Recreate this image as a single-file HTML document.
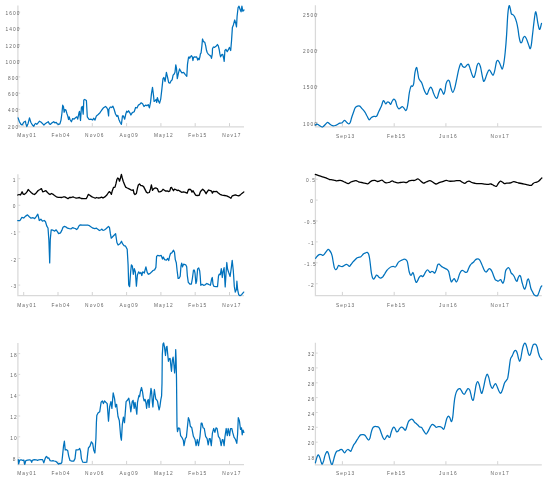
<!DOCTYPE html>
<html><head><meta charset="utf-8"><style>
html,body{margin:0;padding:0;background:#fff;}
body{width:550px;height:481px;overflow:hidden;}
svg{display:block;}
svg text{font-family:"Liberation Sans",Arial,sans-serif;font-size:4.8px;letter-spacing:1.1px;fill:#666666;}
</style></head><body>
<svg width="550" height="481" viewBox="0 0 550 481">
<rect width="550" height="481" fill="#fff"/>
<path d="M17.9,5.4V126.8H244.0" fill="none" stroke="#d9d9d9" stroke-width="1.25"/>
<path d="M23.7,126.3v-3.2" stroke="#c8c8c8" stroke-width="0.8"/>
<text x="27.1" y="137.4" text-anchor="middle">May01</text>
<path d="M58.0,126.3v-3.2" stroke="#c8c8c8" stroke-width="0.8"/>
<text x="61.0" y="137.4" text-anchor="middle">Feb04</text>
<path d="M92.3,126.3v-3.2" stroke="#c8c8c8" stroke-width="0.8"/>
<text x="94.8" y="137.4" text-anchor="middle">Nov06</text>
<path d="M126.6,126.3v-3.2" stroke="#c8c8c8" stroke-width="0.8"/>
<text x="129.1" y="137.4" text-anchor="middle">Aug09</text>
<path d="M160.9,126.3v-3.2" stroke="#c8c8c8" stroke-width="0.8"/>
<text x="163.9" y="137.4" text-anchor="middle">May12</text>
<path d="M195.2,126.3v-3.2" stroke="#c8c8c8" stroke-width="0.8"/>
<text x="197.7" y="137.4" text-anchor="middle">Feb15</text>
<path d="M229.5,126.3v-3.2" stroke="#c8c8c8" stroke-width="0.8"/>
<text x="231.9" y="137.4" text-anchor="middle">Nov17</text>
<path d="M18.4,12.0h1.8" stroke="#c8c8c8" stroke-width="0.7"/>
<text x="13.0" y="15.1" text-anchor="middle">1600</text>
<path d="M18.4,28.2h1.8" stroke="#c8c8c8" stroke-width="0.7"/>
<text x="13.0" y="31.3" text-anchor="middle">1400</text>
<path d="M18.4,44.5h1.8" stroke="#c8c8c8" stroke-width="0.7"/>
<text x="13.0" y="47.5" text-anchor="middle">1200</text>
<path d="M18.4,60.7h1.8" stroke="#c8c8c8" stroke-width="0.7"/>
<text x="13.0" y="63.7" text-anchor="middle">1000</text>
<path d="M18.4,76.9h1.8" stroke="#c8c8c8" stroke-width="0.7"/>
<text x="13.6" y="80.0" text-anchor="middle">800</text>
<path d="M18.4,93.2h1.8" stroke="#c8c8c8" stroke-width="0.7"/>
<text x="13.6" y="96.2" text-anchor="middle">600</text>
<path d="M18.4,109.4h1.8" stroke="#c8c8c8" stroke-width="0.7"/>
<text x="13.6" y="112.4" text-anchor="middle">400</text>
<path d="M18.4,125.6h1.8" stroke="#c8c8c8" stroke-width="0.7"/>
<text x="13.6" y="128.7" text-anchor="middle">200</text>
<path d="M315.4,5.3V126.9H541.8" fill="none" stroke="#d9d9d9" stroke-width="1.25"/>
<path d="M342.4,126.4v-3.2" stroke="#c8c8c8" stroke-width="0.8"/>
<text x="345.6" y="137.5" text-anchor="middle">Sep13</text>
<path d="M394.2,126.4v-3.2" stroke="#c8c8c8" stroke-width="0.8"/>
<text x="396.6" y="137.5" text-anchor="middle">Feb15</text>
<path d="M445.9,126.4v-3.2" stroke="#c8c8c8" stroke-width="0.8"/>
<text x="448.4" y="137.5" text-anchor="middle">Jun16</text>
<path d="M497.7,126.4v-3.2" stroke="#c8c8c8" stroke-width="0.8"/>
<text x="500.2" y="137.5" text-anchor="middle">Nov17</text>
<path d="M315.9,14.1h1.8" stroke="#c8c8c8" stroke-width="0.7"/>
<text x="310.5" y="17.1" text-anchor="middle">2500</text>
<path d="M315.9,50.2h1.8" stroke="#c8c8c8" stroke-width="0.7"/>
<text x="310.5" y="53.2" text-anchor="middle">2000</text>
<path d="M315.9,86.3h1.8" stroke="#c8c8c8" stroke-width="0.7"/>
<text x="310.5" y="89.4" text-anchor="middle">1500</text>
<path d="M315.9,122.4h1.8" stroke="#c8c8c8" stroke-width="0.7"/>
<text x="310.5" y="125.5" text-anchor="middle">1000</text>
<path d="M17.9,174.3V295.7H244.0" fill="none" stroke="#d9d9d9" stroke-width="1.25"/>
<path d="M23.7,295.2v-3.2" stroke="#c8c8c8" stroke-width="0.8"/>
<text x="27.1" y="306.7" text-anchor="middle">May01</text>
<path d="M58.0,295.2v-3.2" stroke="#c8c8c8" stroke-width="0.8"/>
<text x="61.0" y="306.7" text-anchor="middle">Feb04</text>
<path d="M92.3,295.2v-3.2" stroke="#c8c8c8" stroke-width="0.8"/>
<text x="94.8" y="306.7" text-anchor="middle">Nov06</text>
<path d="M126.6,295.2v-3.2" stroke="#c8c8c8" stroke-width="0.8"/>
<text x="129.1" y="306.7" text-anchor="middle">Aug09</text>
<path d="M160.9,295.2v-3.2" stroke="#c8c8c8" stroke-width="0.8"/>
<text x="163.9" y="306.7" text-anchor="middle">May12</text>
<path d="M195.2,295.2v-3.2" stroke="#c8c8c8" stroke-width="0.8"/>
<text x="197.7" y="306.7" text-anchor="middle">Feb15</text>
<path d="M229.5,295.2v-3.2" stroke="#c8c8c8" stroke-width="0.8"/>
<text x="231.9" y="306.7" text-anchor="middle">Nov17</text>
<path d="M18.4,178.7h1.8" stroke="#c8c8c8" stroke-width="0.7"/>
<text x="14.7" y="181.8" text-anchor="middle">1</text>
<path d="M18.4,205.3h1.8" stroke="#c8c8c8" stroke-width="0.7"/>
<text x="14.7" y="208.3" text-anchor="middle">0</text>
<path d="M18.4,231.9h1.8" stroke="#c8c8c8" stroke-width="0.7"/>
<text x="14.1" y="234.9" text-anchor="middle">-1</text>
<path d="M18.4,258.5h1.8" stroke="#c8c8c8" stroke-width="0.7"/>
<text x="14.1" y="261.6" text-anchor="middle">-2</text>
<path d="M18.4,285.1h1.8" stroke="#c8c8c8" stroke-width="0.7"/>
<text x="14.1" y="288.1" text-anchor="middle">-3</text>
<path d="M315.4,174.5V295.6H541.8" fill="none" stroke="#d9d9d9" stroke-width="1.25"/>
<path d="M342.4,295.1v-3.2" stroke="#c8c8c8" stroke-width="0.8"/>
<text x="345.6" y="306.6" text-anchor="middle">Sep13</text>
<path d="M394.2,295.1v-3.2" stroke="#c8c8c8" stroke-width="0.8"/>
<text x="396.6" y="306.6" text-anchor="middle">Feb15</text>
<path d="M445.9,295.1v-3.2" stroke="#c8c8c8" stroke-width="0.8"/>
<text x="448.4" y="306.6" text-anchor="middle">Jun16</text>
<path d="M497.7,295.1v-3.2" stroke="#c8c8c8" stroke-width="0.8"/>
<text x="500.2" y="306.6" text-anchor="middle">Nov17</text>
<path d="M315.9,179.2h1.8" stroke="#c8c8c8" stroke-width="0.7"/>
<text x="311.1" y="182.2" text-anchor="middle">0.5</text>
<path d="M315.9,200.1h1.8" stroke="#c8c8c8" stroke-width="0.7"/>
<text x="312.2" y="203.2" text-anchor="middle">0</text>
<path d="M315.9,221.0h1.8" stroke="#c8c8c8" stroke-width="0.7"/>
<text x="310.5" y="224.1" text-anchor="middle">-0.5</text>
<path d="M315.9,241.9h1.8" stroke="#c8c8c8" stroke-width="0.7"/>
<text x="311.6" y="244.9" text-anchor="middle">-1</text>
<path d="M315.9,262.8h1.8" stroke="#c8c8c8" stroke-width="0.7"/>
<text x="310.5" y="265.9" text-anchor="middle">-1.5</text>
<path d="M315.9,283.7h1.8" stroke="#c8c8c8" stroke-width="0.7"/>
<text x="311.6" y="286.8" text-anchor="middle">-2</text>
<path d="M17.9,343.0V464.6H244.0" fill="none" stroke="#d9d9d9" stroke-width="1.25"/>
<path d="M23.7,464.1v-3.2" stroke="#c8c8c8" stroke-width="0.8"/>
<text x="27.1" y="474.7" text-anchor="middle">May01</text>
<path d="M58.0,464.1v-3.2" stroke="#c8c8c8" stroke-width="0.8"/>
<text x="61.0" y="474.7" text-anchor="middle">Feb04</text>
<path d="M92.3,464.1v-3.2" stroke="#c8c8c8" stroke-width="0.8"/>
<text x="94.8" y="474.7" text-anchor="middle">Nov06</text>
<path d="M126.6,464.1v-3.2" stroke="#c8c8c8" stroke-width="0.8"/>
<text x="129.1" y="474.7" text-anchor="middle">Aug09</text>
<path d="M160.9,464.1v-3.2" stroke="#c8c8c8" stroke-width="0.8"/>
<text x="163.9" y="474.7" text-anchor="middle">May12</text>
<path d="M195.2,464.1v-3.2" stroke="#c8c8c8" stroke-width="0.8"/>
<text x="197.7" y="474.7" text-anchor="middle">Feb15</text>
<path d="M229.5,464.1v-3.2" stroke="#c8c8c8" stroke-width="0.8"/>
<text x="231.9" y="474.7" text-anchor="middle">Nov17</text>
<path d="M18.4,353.6h1.8" stroke="#c8c8c8" stroke-width="0.7"/>
<text x="14.1" y="356.6" text-anchor="middle">18</text>
<path d="M18.4,374.4h1.8" stroke="#c8c8c8" stroke-width="0.7"/>
<text x="14.1" y="377.4" text-anchor="middle">16</text>
<path d="M18.4,395.2h1.8" stroke="#c8c8c8" stroke-width="0.7"/>
<text x="14.1" y="398.2" text-anchor="middle">14</text>
<path d="M18.4,416.0h1.8" stroke="#c8c8c8" stroke-width="0.7"/>
<text x="14.1" y="419.0" text-anchor="middle">12</text>
<path d="M18.4,436.8h1.8" stroke="#c8c8c8" stroke-width="0.7"/>
<text x="14.1" y="439.8" text-anchor="middle">10</text>
<path d="M18.4,457.6h1.8" stroke="#c8c8c8" stroke-width="0.7"/>
<text x="14.7" y="460.6" text-anchor="middle">8</text>
<path d="M315.4,342.8V464.9H541.8" fill="none" stroke="#d9d9d9" stroke-width="1.25"/>
<path d="M342.4,464.4v-3.2" stroke="#c8c8c8" stroke-width="0.8"/>
<text x="345.6" y="475.0" text-anchor="middle">Sep13</text>
<path d="M394.2,464.4v-3.2" stroke="#c8c8c8" stroke-width="0.8"/>
<text x="396.6" y="475.0" text-anchor="middle">Feb15</text>
<path d="M445.9,464.4v-3.2" stroke="#c8c8c8" stroke-width="0.8"/>
<text x="448.4" y="475.0" text-anchor="middle">Jun16</text>
<path d="M497.7,464.4v-3.2" stroke="#c8c8c8" stroke-width="0.8"/>
<text x="500.2" y="475.0" text-anchor="middle">Nov17</text>
<path d="M315.9,353.1h1.8" stroke="#c8c8c8" stroke-width="0.7"/>
<text x="311.6" y="356.1" text-anchor="middle">32</text>
<path d="M315.9,367.9h1.8" stroke="#c8c8c8" stroke-width="0.7"/>
<text x="311.6" y="371.0" text-anchor="middle">30</text>
<path d="M315.9,382.8h1.8" stroke="#c8c8c8" stroke-width="0.7"/>
<text x="311.6" y="385.8" text-anchor="middle">28</text>
<path d="M315.9,397.6h1.8" stroke="#c8c8c8" stroke-width="0.7"/>
<text x="311.6" y="400.7" text-anchor="middle">26</text>
<path d="M315.9,412.5h1.8" stroke="#c8c8c8" stroke-width="0.7"/>
<text x="311.6" y="415.5" text-anchor="middle">24</text>
<path d="M315.9,427.3h1.8" stroke="#c8c8c8" stroke-width="0.7"/>
<text x="311.6" y="430.4" text-anchor="middle">22</text>
<path d="M315.9,442.2h1.8" stroke="#c8c8c8" stroke-width="0.7"/>
<text x="311.6" y="445.2" text-anchor="middle">20</text>
<path d="M315.9,457.0h1.8" stroke="#c8c8c8" stroke-width="0.7"/>
<text x="311.6" y="460.1" text-anchor="middle">18</text>
<polyline points="18.1,117.9 19.4,121.7 21.0,124.4 22.1,125.0 23.7,122.3 25.4,121.2 25.9,123.9 26.8,126.6 28.1,123.4 29.5,117.9 30.8,122.3 32.4,125.0 33.8,126.3 34.6,124.4 35.7,123.4 36.8,124.4 38.1,122.8 39.5,121.2 41.2,122.3 42.8,123.9 43.9,125.0 45.0,123.9 46.6,122.8 48.3,121.7 49.4,123.9 50.4,124.4 52.1,122.8 53.7,121.7 54.8,122.8 56.2,122.3 57.3,123.9 58.6,124.4 59.9,123.9 61.0,120.1 61.9,113.5 62.7,105.2 63.5,106.8 64.1,112.3 65.0,109.5 65.9,110.0 66.8,113.2 67.7,115.9 68.6,119.5 69.1,116.8 70.0,119.5 71.4,121.8 72.7,118.6 74.1,119.1 75.5,117.7 76.8,116.8 77.7,119.1 79.1,112.3 79.5,111.4 80.5,120.5 81.4,107.7 82.3,106.4 83.2,114.1 83.8,100.0 84.7,99.5 86.4,100.5 87.3,116.8 89.1,119.5 90.9,119.1 92.7,120.0 93.6,118.2 95.0,120.0 96.4,115.9 98.2,114.5 100.0,112.7 101.8,110.0 103.6,107.7 105.5,106.4 106.8,107.7 107.7,109.5 108.6,115.9 108.9,109.3 110.3,107.0 111.7,107.5 112.9,106.1 114.1,109.3 115.5,114.0 116.9,116.4 117.8,115.4 118.8,119.2 120.2,122.5 121.4,124.3 122.5,115.9 123.4,115.9 124.7,119.2 125.8,114.0 126.7,111.2 127.7,112.2 128.6,110.7 130.0,113.1 130.9,115.0 132.3,112.6 134.2,111.7 135.6,107.5 137.0,108.0 138.4,105.1 139.8,104.2 141.2,102.8 142.6,103.7 144.0,106.5 145.5,105.1 146.9,105.6 148.3,104.7 149.4,107.9 150.6,101.9 151.5,93.4 152.5,87.3 153.6,96.2 154.1,101.4 155.3,100.4 156.2,99.5 156.7,102.3 157.4,97.6 158.4,100.9 159.6,103.2 160.7,99.2 161.9,88.9 163.0,78.6 163.9,77.5 165.1,81.5 166.4,72.3 167.6,77.5 168.7,82.6 169.9,83.2 171.0,80.9 172.2,79.7 173.1,75.2 174.2,74.0 175.0,72.3 175.8,64.9 176.5,68.3 177.3,78.6 178.5,72.9 179.6,68.9 180.7,71.2 181.9,72.9 183.6,72.3 185.3,74.6 186.8,76.3 187.5,64.1 188.5,57.5 189.0,56.8 189.7,58.3 190.5,56.8 191.4,55.7 192.3,56.8 192.9,60.5 193.6,57.2 194.5,56.8 195.5,57.2 196.5,56.8 197.2,58.3 197.7,60.1 198.5,58.3 199.2,59.7 199.9,56.8 200.4,53.9 201.1,52.8 201.9,45.9 202.5,39.0 203.2,40.8 203.9,41.9 204.8,42.3 205.7,45.9 206.5,50.3 207.2,52.5 208.3,54.1 209.7,55.4 210.8,56.1 211.5,58.3 212.3,53.9 212.5,48.8 213.4,47.0 214.5,47.4 215.5,46.6 216.4,45.9 217.4,44.5 218.3,45.9 219.2,49.5 219.9,53.9 220.6,56.8 221.4,55.4 222.1,54.3 222.8,54.6 223.6,58.0 224.2,61.3 224.9,50.5 225.9,49.3 227.2,51.7 228.2,49.9 229.4,47.4 230.7,50.5 231.5,41.1 232.4,27.4 233.4,24.9 234.7,20.0 235.7,23.1 236.5,26.8 237.1,16.2 238.1,7.5 239.0,6.2 240.3,10.0 241.1,11.8 241.9,6.2 242.8,11.2 244.0,10.0" fill="none" stroke="#0072bd" stroke-width="1.25" stroke-linejoin="round" stroke-linecap="round"/>
<path d="M315.3,125.0C315.6,124.8 316.4,124.0 317.1,124.1C317.8,124.2 318.5,125.0 319.4,125.5C320.3,126.0 321.5,127.2 322.5,127.0C323.5,126.8 324.5,125.3 325.3,124.5C326.1,123.7 326.8,122.4 327.5,122.3C328.2,122.2 329.0,123.5 329.8,124.1C330.6,124.7 331.6,125.5 332.5,125.7C333.4,125.9 334.5,125.7 335.3,125.5C336.1,125.3 336.8,124.9 337.5,124.5C338.2,124.1 339.0,123.5 339.8,123.2C340.6,122.9 341.3,123.2 342.1,122.7C342.9,122.2 343.6,120.4 344.4,120.3C345.1,120.2 345.9,121.7 346.6,122.3C347.4,122.9 348.3,123.9 348.9,123.9C349.5,123.9 349.9,123.3 350.3,122.3C350.8,121.3 351.1,119.4 351.6,117.7C352.1,116.0 352.9,114.0 353.5,112.3C354.1,110.6 354.6,108.7 355.3,107.7C356.0,106.7 356.8,106.4 357.5,106.1C358.2,105.8 359.0,105.6 359.8,106.1C360.6,106.6 361.4,107.9 362.3,108.9C363.2,109.9 364.3,111.2 365.1,112.3C365.9,113.4 366.2,114.5 366.9,115.8C367.6,117.0 368.4,119.5 369.2,119.8C369.9,120.1 370.6,118.1 371.4,117.5C372.1,116.9 372.8,116.5 373.7,116.3C374.6,116.1 375.7,117.1 376.6,116.3C377.5,115.5 378.1,112.8 378.9,111.2C379.7,109.6 380.5,108.2 381.2,106.6C381.9,105.0 382.4,102.5 382.9,101.5C383.4,100.5 383.5,100.5 384.0,100.9C384.5,101.3 385.1,103.6 385.7,103.8C386.3,104.0 386.9,102.2 387.5,102.0C388.1,101.8 388.7,102.2 389.2,102.6C389.7,103.0 390.2,104.5 390.7,104.3C391.2,104.1 391.5,102.3 392.0,101.5C392.5,100.7 393.2,99.3 393.8,99.2C394.4,99.1 394.9,99.7 395.5,100.9C396.1,102.1 396.6,105.3 397.2,106.6C397.8,107.9 398.3,108.7 398.9,108.9C399.5,109.1 400.0,108.2 400.6,107.8C401.2,107.4 401.7,106.5 402.3,106.6C402.9,106.7 403.5,107.6 404.1,108.3C404.7,109.0 405.3,110.5 405.8,110.6C406.3,110.7 406.5,110.3 406.9,108.9C407.3,107.5 407.7,105.2 408.1,102.4C408.5,99.7 408.9,95.1 409.4,92.4C409.9,89.7 410.5,87.2 411.0,86.2C411.5,85.2 412.1,86.6 412.5,86.2C412.9,85.8 413.3,86.0 413.7,83.7C414.1,81.4 414.5,75.1 415.0,72.4C415.5,69.7 416.1,67.7 416.5,67.5C416.9,67.3 417.1,69.4 417.5,71.2C417.9,73.0 418.3,76.5 418.7,78.1C419.1,79.6 419.5,79.7 420.0,80.5C420.5,81.3 421.2,81.6 421.8,83.0C422.4,84.4 423.1,87.0 423.7,88.7C424.3,90.4 425.0,92.1 425.6,93.0C426.2,93.9 426.6,94.8 427.2,94.3C427.8,93.8 428.3,91.1 428.9,89.9C429.5,88.7 430.1,87.3 430.6,87.2C431.2,87.1 431.7,88.2 432.2,89.3C432.7,90.4 433.1,92.2 433.7,93.6C434.2,94.9 434.9,96.7 435.5,97.4C436.1,98.1 436.7,98.7 437.2,98.0C437.7,97.3 438.2,94.5 438.7,93.0C439.2,91.5 439.8,89.1 440.3,88.7C440.8,88.3 441.2,89.6 441.8,90.5C442.4,91.4 443.2,94.2 443.7,94.3C444.2,94.4 444.5,92.9 444.9,91.1C445.3,89.3 445.6,85.5 446.1,83.7C446.6,81.9 447.4,80.5 448.0,80.2C448.6,79.9 449.1,80.6 449.6,81.8C450.1,83.0 450.4,85.6 450.9,87.4C451.4,89.2 452.1,92.3 452.7,92.4C453.3,92.5 454.0,90.4 454.7,88.1C455.4,85.8 456.1,81.8 456.8,78.6C457.5,75.4 458.1,71.7 458.8,69.2C459.5,66.7 460.1,64.0 460.8,63.5C461.5,63.0 462.1,65.9 462.8,66.5C463.5,67.1 464.2,67.4 464.9,67.2C465.6,67.0 466.3,65.5 466.9,65.1C467.5,64.6 468.0,63.8 468.6,64.5C469.2,65.2 469.7,67.4 470.3,69.2C470.9,71.0 471.7,74.0 472.3,75.3C472.9,76.6 473.5,77.9 474.1,77.3C474.7,76.7 475.2,73.8 475.7,71.9C476.2,70.0 476.5,67.3 477.0,65.8C477.5,64.3 478.0,63.0 478.6,63.1C479.2,63.2 479.8,64.6 480.4,66.5C481.0,68.4 481.5,72.2 482.0,74.6C482.5,77.0 483.0,80.3 483.5,81.1C484.0,81.9 484.5,80.6 485.1,79.3C485.7,78.0 486.5,74.8 487.2,73.2C487.9,71.6 488.6,70.1 489.2,69.9C489.8,69.7 490.2,71.0 490.8,71.9C491.4,72.8 492.4,75.4 493.0,75.3C493.6,75.2 494.0,73.5 494.6,71.2C495.2,69.0 495.9,63.6 496.5,61.8C497.1,60.0 497.4,60.2 497.9,60.3C498.4,60.4 498.9,61.5 499.4,62.5C499.9,63.5 500.3,65.0 500.8,66.1C501.3,67.2 501.8,69.3 502.3,69.0C502.8,68.7 503.2,66.8 503.7,64.0C504.2,61.2 504.7,57.1 505.2,52.3C505.7,47.4 506.2,41.2 506.6,34.9C507.0,28.6 507.4,19.4 507.8,14.5C508.2,9.7 508.7,6.8 509.1,5.8C509.5,4.8 509.9,7.4 510.3,8.7C510.7,10.0 510.9,12.8 511.3,13.8C511.7,14.8 512.2,14.0 512.7,14.5C513.2,15.0 514.0,15.5 514.6,16.7C515.2,17.9 515.9,19.7 516.5,21.8C517.1,23.9 517.6,26.7 518.0,29.1C518.4,31.5 518.6,34.1 519.0,36.3C519.4,38.5 519.9,41.2 520.4,42.2C520.9,43.2 521.4,42.9 521.9,42.2C522.4,41.5 522.8,38.8 523.3,37.8C523.8,36.8 524.3,36.2 524.8,36.3C525.3,36.4 525.8,37.5 526.3,38.5C526.8,39.5 527.2,40.9 527.7,42.2C528.2,43.5 528.8,45.4 529.2,46.5C529.6,47.6 529.9,48.9 530.3,48.7C530.6,48.5 530.9,47.4 531.3,45.1C531.7,42.8 532.0,38.8 532.5,34.9C533.0,31.0 533.5,25.6 534.0,21.8C534.5,18.1 535.0,13.7 535.4,12.4C535.8,11.1 536.0,12.0 536.4,13.8C536.8,15.6 537.4,20.8 537.9,23.3C538.4,25.9 538.9,28.3 539.3,29.1C539.7,29.9 539.9,29.3 540.3,28.3C540.7,27.3 541.3,24.1 541.5,23.3" fill="none" stroke="#0072bd" stroke-width="1.25" stroke-linejoin="round" stroke-linecap="round"/>
<polyline points="17.7,195.0 19.1,194.5 20.5,195.0 22.1,191.8 23.2,194.1 24.1,194.5 25.9,193.2 27.3,191.4 28.2,189.5 29.5,190.9 31.4,192.7 32.7,193.8 34.5,194.5 36.4,192.7 38.2,190.5 40.0,189.5 41.4,188.6 42.7,191.8 44.1,191.4 45.9,190.7 47.3,192.3 48.6,193.6 50.0,194.5 51.4,193.5 52.7,194.1 54.5,195.5 56.4,196.8 58.2,197.3 60.0,197.3 61.8,197.5 63.6,196.8 64.8,196.9 66.6,197.8 68.0,198.7 69.4,197.5 71.2,197.5 73.0,196.9 74.4,197.5 76.2,198.2 78.0,197.8 79.4,197.5 81.2,198.5 83.5,198.7 86.2,198.7 87.1,197.1 88.3,194.4 89.8,195.3 91.6,196.6 93.5,197.5 95.3,198.2 96.6,197.5 98.0,198.0 99.8,197.8 101.6,197.1 103.0,198.0 104.8,196.9 106.6,195.3 108.5,192.5 109.5,191.6 110.7,193.0 111.4,194.4 112.3,190.7 113.5,187.5 115.0,187.1 115.9,183.9 116.8,179.8 117.7,178.0 118.6,178.5 119.5,181.2 120.5,178.0 121.4,174.4 122.3,178.0 123.2,181.2 124.5,184.4 125.6,187.1 127.3,188.0 129.1,188.9 130.9,189.8 132.3,190.3 133.2,189.8 134.1,193.5 135.0,194.5 136.4,193.5 137.3,188.9 138.2,185.3 139.5,183.9 140.9,185.7 142.3,185.7 143.6,186.6 145.0,189.4 146.4,192.1 147.7,193.0 149.3,192.5 150.5,188.9 151.4,184.8 152.5,190.3 153.6,188.9 155.0,188.0 156.5,188.2 157.5,188.9 158.6,191.8 159.8,191.8 161.6,191.1 163.0,189.3 164.4,190.2 165.7,191.1 167.1,190.9 168.9,191.6 169.8,190.9 170.7,187.7 171.6,187.5 172.5,189.1 173.5,190.7 174.5,189.1 175.7,189.5 177.1,190.5 178.5,190.2 180.3,191.4 181.6,192.3 183.5,191.8 185.3,192.3 187.1,193.2 188.5,189.5 189.8,189.3 190.0,189.2 191.2,190.2 192.0,192.2 193.1,190.7 194.1,192.7 195.6,195.1 197.1,195.5 199.2,195.3 200.2,192.2 201.2,190.7 202.7,189.2 204.3,190.7 206.1,193.7 207.3,191.7 208.6,190.0 210.4,190.7 211.6,191.2 212.4,193.2 213.4,191.4 214.9,191.7 216.7,191.4 218.0,192.7 220.0,194.3 222.1,195.1 224.6,195.5 226.7,195.8 228.7,196.8 230.9,198.3 232.3,195.8 233.8,195.3 235.3,194.8 236.8,195.3 238.7,195.8 240.1,195.1 241.9,193.4 243.8,192.0" fill="none" stroke="#000" stroke-width="1.3" stroke-linejoin="round" stroke-linecap="round"/>
<polyline points="17.7,220.5 20.0,220.5 21.9,217.4 23.7,218.0 25.6,216.1 27.5,214.9 29.3,216.7 31.0,218.2 33.1,217.7 34.7,218.6 36.2,216.7 37.8,214.2 39.3,220.5 40.9,219.2 42.4,221.1 44.3,220.5 45.5,221.7 46.8,226.1 48.0,228.0 48.9,240.4 49.7,262.9 50.3,239.2 51.2,229.8 53.0,230.2 54.7,231.1 56.1,229.8 57.4,231.7 58.6,233.6 60.5,232.9 61.8,230.4 63.0,227.3 64.4,226.4 65.7,226.8 67.5,228.2 69.4,228.6 71.2,228.8 72.5,227.7 73.9,228.2 75.3,228.5 76.6,229.5 77.7,228.6 78.9,225.9 80.3,224.8 82.1,225.2 84.8,225.2 87.5,225.0 89.4,225.7 91.2,227.0 93.0,228.2 94.8,228.6 96.5,228.2 97.5,229.1 99.4,230.5 100.7,230.0 101.9,229.1 103.0,230.3 104.4,230.0 105.7,229.1 107.1,227.7 108.5,226.4 109.5,227.7 110.3,233.2 111.2,238.2 113.1,236.2 115.6,233.7 116.9,242.5 118.1,245.0 120.0,243.7 121.5,241.2 122.5,243.7 124.0,245.6 125.6,246.2 127.2,249.3 128.1,264.9 128.7,284.9 129.6,286.7 130.6,272.4 131.4,264.9 132.4,266.2 133.3,274.3 134.3,268.7 135.3,271.8 136.4,286.1 137.4,274.9 138.7,271.8 139.9,273.6 140.9,272.4 141.8,275.5 142.7,271.8 144.3,273.0 145.9,266.8 147.2,272.4 148.4,274.3 149.9,273.6 151.8,271.8 153.0,270.5 154.6,269.9 155.9,267.4 156.6,256.4 157.6,255.4 159.7,255.9 161.2,255.4 162.5,259.0 163.3,257.0 164.6,259.6 166.4,260.1 167.7,258.5 168.7,260.6 169.6,256.4 170.6,253.3 171.8,252.8 173.5,250.2 174.5,252.3 175.3,259.6 176.3,262.7 177.1,270.5 178.1,278.3 179.1,278.3 180.2,276.2 181.0,265.8 181.7,263.2 182.5,266.8 183.6,264.2 185.7,264.8 186.7,266.8 187.4,276.2 188.3,282.4 189.8,284.0 191.4,284.0 192.4,278.3 193.5,270.0 194.3,270.0 195.0,273.1 195.9,283.5 196.6,281.4 197.6,268.9 198.7,267.9 199.7,271.0 200.2,276.0 200.8,285.3 202.1,284.3 203.6,285.3 205.2,284.8 206.8,283.5 208.1,284.1 209.4,284.8 210.4,285.3 211.6,279.1 212.3,277.5 213.0,284.3 214.0,286.4 216.1,286.6 217.5,286.6 218.5,276.0 219.2,274.1 220.3,274.7 221.3,268.7 222.3,277.5 223.1,271.3 224.1,267.7 225.2,286.9 226.0,273.9 226.8,262.5 227.5,268.7 228.6,272.3 230.1,276.5 231.2,268.7 232.2,260.4 233.3,270.8 234.3,286.4 235.3,292.1 236.4,289.5 236.9,281.2 237.6,289.5 238.7,294.7 240.0,295.7 241.6,294.7 243.7,292.1" fill="none" stroke="#0072bd" stroke-width="1.25" stroke-linejoin="round" stroke-linecap="round"/>
<path d="M315.3,174.4C315.8,174.6 317.1,175.1 318.1,175.4C319.1,175.7 320.2,176.1 321.2,176.4C322.2,176.7 323.4,177.0 324.3,177.3C325.2,177.6 326.1,178.0 326.9,178.3C327.7,178.6 328.3,179.1 329.0,179.3C329.7,179.5 330.3,179.5 331.1,179.6C331.9,179.7 332.8,179.9 333.7,180.1C334.6,180.3 335.5,180.7 336.3,180.8C337.1,180.9 337.7,180.7 338.3,180.6C338.9,180.5 339.4,180.3 340.0,180.4C340.6,180.5 341.4,180.6 342.2,180.9C343.0,181.2 343.9,181.8 344.9,182.2C345.9,182.6 347.2,183.6 348.2,183.6C349.2,183.6 350.0,182.4 350.9,182.0C351.8,181.6 352.7,181.4 353.6,181.2C354.5,181.0 355.3,180.6 356.1,180.7C356.9,180.8 357.6,181.5 358.5,181.8C359.4,182.1 360.8,182.3 361.8,182.5C362.8,182.7 363.5,182.9 364.5,183.1C365.5,183.3 366.9,184.0 367.8,183.8C368.7,183.6 369.3,182.5 370.0,182.0C370.7,181.5 371.4,181.0 372.2,180.7C373.0,180.4 374.0,180.3 374.9,180.4C375.8,180.5 376.8,181.4 377.6,181.5C378.4,181.6 379.1,181.1 379.8,180.9C380.5,180.7 381.3,179.9 382.0,180.1C382.7,180.3 383.5,181.5 384.2,182.0C384.9,182.5 385.6,182.8 386.3,182.9C387.0,183.0 387.9,182.7 388.5,182.5C389.1,182.3 389.6,182.3 390.2,182.0C390.8,181.7 391.6,180.9 392.3,180.9C393.0,180.9 393.6,181.7 394.5,182.0C395.4,182.3 396.7,182.8 397.7,182.9C398.7,183.0 399.5,182.6 400.5,182.5C401.5,182.4 402.7,182.2 403.7,182.2C404.7,182.2 405.6,182.7 406.5,182.5C407.4,182.3 408.3,181.2 409.2,180.9C410.1,180.6 411.0,180.5 411.9,180.4C412.8,180.3 413.6,180.7 414.6,180.4C415.6,180.2 416.9,178.8 417.9,178.9C418.9,179.0 419.7,180.2 420.6,180.9C421.5,181.6 422.5,182.9 423.4,183.1C424.3,183.3 425.0,182.4 426.1,182.0C427.2,181.6 428.8,180.7 429.9,180.7C431.0,180.7 431.6,181.4 432.6,182.0C433.6,182.6 434.9,183.8 435.9,184.0C436.9,184.2 437.6,183.3 438.6,182.9C439.6,182.5 440.6,182.2 441.9,181.8C443.2,181.4 445.1,180.5 446.3,180.4C447.5,180.3 447.8,181.1 449.0,181.2C450.2,181.3 452.1,181.2 453.3,181.1C454.6,181.0 455.4,180.8 456.5,180.7C457.6,180.6 458.9,180.5 459.8,180.7C460.7,180.9 461.2,181.6 462.0,182.0C462.8,182.4 463.9,183.3 464.7,183.3C465.5,183.3 466.2,182.2 466.9,181.8C467.6,181.4 468.3,181.0 469.1,181.1C469.9,181.2 470.8,182.1 471.8,182.5C472.8,182.9 474.0,183.1 475.1,183.3C476.2,183.5 477.3,183.6 478.4,183.6C479.5,183.6 480.5,183.5 481.6,183.6C482.7,183.7 483.8,184.1 484.9,184.2C486.0,184.3 487.2,184.4 488.2,184.4C489.2,184.4 490.0,183.8 490.9,184.0C491.8,184.2 492.7,184.9 493.6,185.3C494.5,185.7 495.5,186.8 496.3,186.4C497.1,186.0 497.8,184.0 498.5,183.1C499.2,182.2 499.8,181.4 500.4,181.2C501.0,181.0 501.6,181.6 502.3,182.0C503.0,182.4 503.8,183.4 504.5,183.6C505.2,183.8 505.8,183.2 506.7,183.1C507.6,183.0 509.1,183.1 510.0,183.0C510.9,182.9 511.2,182.6 511.8,182.4C512.4,182.2 512.9,181.7 513.6,181.6C514.3,181.5 515.1,181.9 515.9,182.1C516.7,182.3 517.6,182.8 518.6,183.0C519.6,183.2 520.8,183.3 521.8,183.5C522.8,183.7 523.6,184.0 524.5,184.2C525.4,184.4 526.5,184.6 527.3,184.8C528.1,185.0 528.8,185.2 529.5,185.3C530.2,185.4 530.8,185.6 531.4,185.3C532.0,185.0 532.6,184.0 533.2,183.5C533.8,183.0 534.4,182.7 535.0,182.5C535.6,182.3 536.2,182.3 536.8,182.1C537.4,181.9 538.0,181.6 538.6,181.2C539.2,180.8 540.0,179.9 540.5,179.4C541.0,178.9 541.6,178.2 541.8,178.0" fill="none" stroke="#000" stroke-width="1.3" stroke-linejoin="round" stroke-linecap="round"/>
<path d="M315.6,258.3C315.9,257.9 316.6,256.8 317.2,256.2C317.8,255.6 318.5,254.9 319.2,254.6C319.9,254.3 320.7,254.5 321.3,254.6C321.9,254.7 322.4,255.5 322.9,255.4C323.4,255.3 323.9,254.7 324.4,254.1C324.9,253.5 325.4,252.6 326.0,251.8C326.6,251.0 327.5,249.6 328.1,249.4C328.7,249.2 329.1,249.9 329.6,250.5C330.1,251.1 330.8,252.2 331.2,253.1C331.6,254.0 331.8,254.6 332.2,256.2C332.6,257.8 332.9,260.5 333.3,262.4C333.7,264.3 333.9,266.4 334.3,267.6C334.7,268.8 335.3,269.5 335.7,269.7C336.1,269.9 336.4,269.4 336.9,268.7C337.4,268.0 338.0,265.9 338.5,265.5C339.0,265.1 339.4,265.9 340.0,266.1C340.6,266.3 341.4,266.7 342.1,266.6C342.8,266.5 343.5,265.9 344.2,265.5C344.9,265.1 345.7,264.4 346.3,264.3C346.9,264.2 347.3,264.6 347.8,265.0C348.3,265.4 348.9,266.5 349.4,266.4C349.9,266.3 350.4,265.2 351.0,264.5C351.6,263.8 352.3,262.7 353.0,261.9C353.7,261.1 354.4,260.5 355.1,259.8C355.8,259.1 356.5,258.1 357.2,257.7C357.9,257.3 358.7,257.4 359.3,257.2C359.9,257.0 360.3,257.1 360.8,256.7C361.3,256.3 361.9,255.6 362.4,255.1C362.9,254.6 363.1,254.2 363.6,253.8C364.2,253.4 365.1,253.1 365.7,252.8C366.3,252.6 366.8,252.1 367.3,252.3C367.8,252.5 368.1,252.8 368.5,253.8C368.9,254.8 369.3,256.7 369.6,258.5C369.9,260.3 370.1,262.4 370.4,264.8C370.7,267.2 371.0,271.0 371.4,273.1C371.8,275.2 372.1,276.7 372.5,277.7C372.9,278.7 373.3,279.2 373.7,279.1C374.1,279.0 374.7,277.9 375.1,277.2C375.6,276.5 376.0,275.4 376.4,275.1C376.8,274.9 377.3,275.4 377.7,275.7C378.1,276.0 378.4,276.8 378.9,277.2C379.4,277.6 380.1,278.2 380.8,278.1C381.5,278.0 382.2,277.4 382.9,276.7C383.6,275.9 384.2,274.6 384.9,273.6C385.5,272.6 386.1,271.4 386.8,270.5C387.5,269.6 388.2,269.0 388.9,268.4C389.6,267.8 390.5,267.1 391.2,266.8C391.9,266.5 392.6,266.3 393.3,266.3C394.0,266.3 394.7,267.2 395.3,267.0C395.9,266.8 396.4,265.6 396.9,264.8C397.4,264.0 397.9,262.9 398.5,262.2C399.1,261.5 399.8,261.2 400.5,260.8C401.2,260.4 402.0,260.1 402.6,259.8C403.2,259.5 403.7,259.0 404.2,259.0C404.7,259.0 405.2,259.2 405.7,259.6C406.2,260.0 406.9,260.4 407.3,261.6C407.7,262.8 408.0,265.2 408.3,266.8C408.6,268.4 408.7,269.7 409.0,271.0C409.3,272.3 409.8,273.9 410.2,274.6C410.6,275.3 411.0,275.5 411.4,275.1C411.8,274.8 412.4,272.6 412.8,272.5C413.2,272.4 413.5,273.5 413.8,274.6C414.1,275.7 414.5,278.0 414.9,279.3C415.3,280.6 415.8,282.1 416.2,282.4C416.6,282.7 417.0,281.7 417.5,280.9C418.0,280.1 418.4,278.6 419.0,277.7C419.6,276.8 420.5,275.9 421.1,275.7C421.7,275.5 422.2,276.9 422.7,276.7C423.2,276.5 423.7,275.5 424.2,274.6C424.7,273.7 425.2,272.3 425.8,271.5C426.4,270.7 427.2,269.8 427.9,270.0C428.6,270.2 429.4,272.2 430.0,272.5C430.6,272.8 431.0,271.6 431.5,271.5C432.0,271.4 432.6,271.5 433.1,271.8C433.6,272.1 434.1,273.4 434.6,273.1C435.1,272.8 435.7,271.4 436.2,270.0C436.7,268.6 437.2,265.8 437.7,264.8C438.2,263.8 438.6,264.0 439.1,264.2C439.6,264.4 440.3,265.3 440.9,265.8C441.5,266.3 442.2,266.9 442.9,267.3C443.6,267.7 444.3,268.0 445.0,268.4C445.7,268.8 446.5,268.9 447.1,269.4C447.7,269.9 448.2,270.0 448.7,271.5C449.2,273.0 449.8,276.6 450.2,278.3C450.6,280.0 450.9,281.6 451.3,281.9C451.7,282.2 452.1,280.9 452.6,280.3C453.1,279.8 453.8,278.6 454.2,278.6C454.6,278.6 454.8,279.5 455.2,280.1C455.6,280.7 456.0,282.1 456.4,282.0C456.8,281.9 457.3,280.9 457.8,279.6C458.3,278.3 458.9,275.8 459.4,274.4C459.9,273.0 460.4,272.0 460.9,271.3C461.4,270.6 462.0,270.3 462.5,270.3C463.0,270.3 463.5,271.0 464.0,271.3C464.5,271.6 465.1,272.2 465.6,272.3C466.1,272.4 466.7,272.5 467.2,271.8C467.7,271.1 468.2,269.3 468.7,268.2C469.2,267.1 469.8,265.9 470.3,265.1C470.8,264.3 471.3,264.0 471.8,263.5C472.3,263.0 472.9,262.8 473.4,262.3C473.9,261.8 474.4,260.9 474.9,260.4C475.4,259.9 476.0,259.4 476.5,259.1C477.0,258.8 477.6,258.7 478.1,258.8C478.6,258.9 479.1,259.2 479.6,259.9C480.1,260.6 480.7,261.9 481.2,263.0C481.7,264.1 482.2,265.4 482.7,266.6C483.2,267.8 483.8,269.4 484.3,270.3C484.8,271.2 485.4,271.9 485.9,272.0C486.4,272.1 486.9,271.4 487.4,270.8C487.9,270.2 488.5,269.0 489.0,268.7C489.5,268.4 490.0,268.7 490.5,269.2C491.0,269.7 491.6,270.7 492.1,271.8C492.6,272.9 493.2,274.7 493.7,276.0C494.2,277.3 494.7,278.9 495.2,279.6C495.7,280.4 496.3,280.2 496.8,280.5C497.3,280.8 497.6,281.3 498.1,281.2C498.6,281.1 499.3,280.4 499.7,280.1C500.1,279.8 500.3,279.3 500.7,279.6C501.1,279.9 501.4,281.1 501.8,281.7C502.2,282.3 502.7,283.5 503.1,283.1C503.5,282.7 504.0,281.0 504.4,279.1C504.8,277.2 505.0,273.5 505.4,271.8C505.8,270.1 506.1,269.9 506.6,269.2C507.1,268.5 507.8,267.5 508.3,267.5C508.8,267.5 509.3,268.3 509.8,269.2C510.3,270.1 510.6,272.0 511.1,272.9C511.6,273.8 512.2,273.8 512.7,274.4C513.2,275.0 513.7,275.6 514.2,276.5C514.7,277.4 515.3,279.3 515.8,280.1C516.3,280.9 516.6,281.5 517.0,281.2C517.4,280.9 517.7,279.1 518.1,278.1C518.5,277.2 519.0,275.7 519.4,275.5C519.8,275.3 520.4,275.9 520.8,277.0C521.2,278.1 521.5,280.5 522.0,282.2C522.5,283.9 523.1,286.3 523.6,287.4C524.1,288.5 524.5,289.4 524.9,289.0C525.3,288.6 525.8,286.8 526.2,285.3C526.6,283.8 527.0,281.1 527.4,280.1C527.8,279.1 528.1,278.8 528.5,279.1C528.9,279.5 529.1,280.6 529.5,282.2C529.9,283.8 530.4,286.9 530.9,288.5C531.4,290.1 531.9,290.6 532.4,291.6C532.9,292.6 533.5,294.0 534.0,294.7C534.5,295.4 534.9,295.6 535.5,295.7C536.1,295.8 537.0,296.2 537.6,295.5C538.2,294.8 538.7,293.0 539.2,291.6C539.7,290.2 540.3,288.3 540.7,287.4C541.1,286.4 541.6,286.1 541.8,285.9" fill="none" stroke="#0072bd" stroke-width="1.25" stroke-linejoin="round" stroke-linecap="round"/>
<polyline points="18.3,459.6 18.7,463.9 19.7,460.1 21.1,459.8 22.5,460.4 23.9,460.1 24.8,464.3 25.8,460.6 27.6,460.1 29.5,459.8 30.9,460.4 31.7,462.3 32.3,460.4 34.2,459.6 36.1,459.8 37.5,460.4 38.9,459.8 40.7,459.5 42.6,459.6 43.8,462.9 44.8,459.6 45.7,457.3 46.6,456.4 47.6,458.2 48.7,457.8 50.1,460.6 51.5,461.0 52.9,460.6 54.3,461.0 55.7,461.3 57.1,462.5 58.5,464.1 59.8,463.4 60.9,463.6 61.8,462.5 62.5,456.1 63.5,446.2 64.4,441.2 65.2,449.9 66.5,449.7 67.7,450.5 68.7,456.1 70.0,460.5 71.8,461.1 73.7,461.1 75.0,458.6 76.0,449.9 77.5,449.9 78.7,449.7 79.7,448.4 80.6,451.1 81.4,458.6 82.7,462.1 84.9,462.4 86.8,462.1 87.7,453.6 88.4,448.0 89.9,446.2 91.4,441.8 92.7,443.7 93.7,449.9 94.9,453.0 95.9,438.7 96.4,422.5 96.8,415.6 98.0,413.1 99.7,411.8 101.1,402.3 102.4,400.9 103.4,403.6 104.5,400.9 105.8,402.3 107.2,403.6 108.5,421.2 109.6,407.0 110.9,401.6 111.9,408.4 113.2,392.8 114.6,398.9 115.5,407.0 116.6,404.3 118.0,416.5 119.3,420.5 120.7,436.8 121.4,440.1 122.3,424.6 123.4,417.2 124.5,422.6 126.1,401.6 127.4,400.3 128.8,398.2 129.9,404.3 130.8,411.8 132.2,401.6 133.1,400.3 134.2,408.4 135.0,402.4 136.0,408.3 136.8,414.1 137.5,402.4 138.3,398.3 139.0,395.4 139.6,396.6 140.4,391.6 141.5,387.5 142.5,391.6 143.3,397.4 144.1,400.8 145.1,399.5 146.0,403.3 146.6,408.3 147.5,400.8 148.3,399.5 149.1,407.4 150.0,397.4 151.0,388.3 151.6,391.6 152.3,401.6 152.9,407.0 153.7,395.8 154.4,389.5 155.0,394.1 155.8,399.1 156.8,399.9 157.6,401.6 158.3,405.8 159.1,409.9 159.9,406.6 160.8,399.9 161.6,395.8 162.0,383.3 162.3,354.6 163.0,343.8 163.7,343.0 164.5,347.2 165.5,355.5 166.3,347.2 167.0,346.3 167.6,353.0 168.4,361.3 169.2,358.8 170.1,358.4 170.9,366.3 171.5,371.3 172.3,360.5 173.1,357.1 174.0,365.5 174.6,372.9 175.3,364.6 175.7,349.6 176.1,358.8 176.5,378.0 177.0,426.2 177.5,431.7 178.6,427.8 179.7,428.5 180.6,435.6 182.2,437.9 183.3,440.2 184.0,445.7 185.3,438.7 186.4,437.1 187.5,426.2 188.4,417.6 189.5,420.7 190.3,426.2 191.8,427.8 193.4,436.3 195.0,439.5 196.1,445.7 197.3,439.5 198.5,445.7 200.0,436.3 201.2,423.1 202.0,423.1 203.1,427.8 204.3,428.5 205.6,436.3 207.1,438.7 208.2,444.9 209.3,438.7 210.2,438.7 211.3,445.7 212.4,433.2 213.7,428.5 214.9,432.4 216.0,427.8 217.1,428.5 218.4,436.3 219.9,438.7 221.2,445.7 222.3,439.5 223.0,439.5 224.1,445.7 224.9,437.1 226.2,428.5 227.3,435.6 228.2,428.5 229.6,435.6 230.5,428.5 231.8,428.5 232.7,432.4 234.0,437.1 235.5,439.5 236.8,443.4 237.6,434.0 238.3,417.6 239.4,420.7 240.5,429.3 241.5,427.8 242.2,434.8 243.0,430.1 243.9,432.4" fill="none" stroke="#0072bd" stroke-width="1.25" stroke-linejoin="round" stroke-linecap="round"/>
<path d="M315.4,462.8C315.6,462.1 316.1,459.9 316.5,458.6C316.9,457.3 317.4,455.7 317.8,455.2C318.2,454.7 318.4,454.8 318.8,455.4C319.2,456.0 319.8,457.5 320.2,458.6C320.6,459.8 320.8,461.4 321.2,462.3C321.6,463.2 321.9,464.4 322.3,464.1C322.7,463.8 323.2,462.1 323.7,460.7C324.1,459.2 324.5,456.8 325.0,455.4C325.5,454.0 326.1,452.8 326.5,452.2C326.9,451.6 327.2,451.3 327.6,451.7C328.0,452.1 328.3,453.1 328.7,454.4C329.1,455.7 329.6,458.1 330.0,459.7C330.4,461.3 330.9,463.2 331.3,463.9C331.7,464.6 332.0,464.6 332.4,464.1C332.8,463.6 333.0,462.0 333.4,460.7C333.8,459.4 334.1,457.8 334.5,456.5C334.9,455.2 335.4,453.7 335.8,452.8C336.2,451.9 336.6,451.4 337.1,451.0C337.6,450.6 338.2,450.9 338.7,450.7C339.2,450.5 339.8,449.8 340.3,449.6C340.8,449.4 341.4,449.3 341.9,449.6C342.4,449.9 342.8,450.6 343.2,451.2C343.6,451.8 344.1,453.0 344.6,452.9C345.1,452.8 345.8,451.2 346.3,450.6C346.8,450.0 347.3,449.6 347.8,449.5C348.3,449.4 348.9,450.0 349.4,450.3C349.9,450.6 350.4,451.6 350.9,451.2C351.4,450.8 351.9,448.9 352.4,447.8C352.9,446.8 353.2,445.8 353.7,444.9C354.2,444.0 354.8,443.5 355.4,442.6C356.0,441.7 356.6,440.6 357.2,439.7C357.8,438.8 358.3,437.7 358.9,436.9C359.5,436.1 359.9,435.3 360.6,434.9C361.3,434.5 362.2,434.6 362.9,434.6C363.6,434.7 364.3,434.7 364.9,435.2C365.5,435.7 365.9,436.7 366.5,437.5C367.1,438.3 367.8,439.9 368.4,440.0C369.0,440.1 369.6,439.2 370.0,438.0C370.4,436.8 370.7,434.5 371.1,432.9C371.5,431.3 372.1,429.4 372.6,428.3C373.1,427.2 373.6,426.9 374.3,426.6C375.0,426.3 375.9,426.5 376.6,426.6C377.3,426.7 378.1,426.7 378.7,427.2C379.3,427.7 379.6,428.4 380.0,429.5C380.4,430.6 380.9,432.2 381.4,433.5C381.9,434.8 382.4,436.5 382.9,437.5C383.4,438.5 384.0,439.7 384.6,439.5C385.2,439.3 386.1,437.1 386.6,436.4C387.1,435.7 387.3,435.2 387.6,435.3C387.9,435.4 388.2,436.6 388.6,436.9C389.0,437.2 389.6,437.7 390.0,436.9C390.4,436.1 390.7,433.7 391.2,432.2C391.7,430.7 392.3,428.9 392.8,428.1C393.3,427.3 393.7,427.0 394.1,427.2C394.5,427.4 395.0,428.4 395.4,429.1C395.8,429.9 396.2,431.4 396.6,431.7C397.0,432.0 397.5,431.7 398.0,431.2C398.5,430.7 399.0,429.3 399.6,428.6C400.2,427.9 400.8,427.3 401.4,427.2C402.0,427.1 402.6,427.4 403.2,427.9C403.8,428.4 404.4,429.8 404.8,430.1C405.2,430.4 405.4,430.3 405.8,429.6C406.2,428.9 406.6,427.3 407.0,426.0C407.4,424.7 407.9,422.8 408.4,421.8C408.9,420.8 409.3,420.4 409.9,420.0C410.5,419.6 411.2,419.1 411.8,419.2C412.4,419.2 412.8,419.8 413.3,420.3C413.8,420.8 414.0,421.7 414.6,422.3C415.2,422.9 416.1,423.4 416.7,423.9C417.3,424.4 417.8,425.0 418.3,425.5C418.8,426.0 419.2,426.7 419.8,427.0C420.4,427.3 421.1,427.1 421.6,427.5C422.1,427.9 422.4,428.8 422.9,429.6C423.4,430.4 424.0,431.4 424.5,432.2C425.0,432.9 425.6,434.1 426.1,434.1C426.6,434.1 427.1,433.0 427.6,432.2C428.1,431.4 428.7,430.1 429.2,429.1C429.7,428.1 430.1,426.8 430.7,426.0C431.2,425.2 431.9,424.4 432.5,424.3C433.1,424.2 433.8,425.0 434.4,425.5C435.0,426.0 435.6,427.2 436.2,427.4C436.8,427.6 437.5,426.8 438.1,426.7C438.7,426.6 439.4,426.5 440.0,426.7C440.6,426.9 441.2,427.2 441.8,427.6C442.4,428.0 443.1,429.6 443.7,429.2C444.3,428.8 444.7,426.7 445.2,424.9C445.7,423.1 446.2,420.1 446.8,418.6C447.4,417.1 448.0,416.2 448.5,416.1C449.0,416.0 449.5,417.1 450.0,418.0C450.5,418.9 450.9,421.8 451.4,421.7C451.8,421.6 452.3,419.8 452.7,417.4C453.1,415.0 453.4,410.5 453.7,407.4C454.0,404.3 454.3,401.2 454.7,398.7C455.1,396.2 455.6,394.0 456.2,392.4C456.8,390.8 457.5,389.9 458.1,389.3C458.7,388.7 459.3,388.5 459.9,388.7C460.4,388.9 460.9,389.9 461.4,390.6C461.9,391.3 462.2,392.5 462.7,393.1C463.2,393.7 463.7,394.6 464.3,394.3C464.9,394.0 465.6,392.1 466.2,391.2C466.8,390.3 467.4,388.9 468.0,388.7C468.6,388.5 469.2,389.1 469.7,390.0C470.2,390.9 470.5,392.8 470.9,394.3C471.3,395.9 471.7,398.4 472.1,399.3C472.5,400.2 473.0,400.8 473.4,399.9C473.8,399.0 474.2,396.2 474.6,393.7C475.1,391.2 475.6,387.0 476.1,385.0C476.6,383.0 477.2,381.6 477.7,381.6C478.2,381.6 478.8,383.4 479.3,385.0C479.8,386.6 480.2,389.8 480.7,391.1C481.1,392.5 481.5,393.9 482.0,393.1C482.5,392.3 483.2,388.9 483.8,386.4C484.4,383.9 484.9,380.2 485.5,378.2C486.1,376.2 486.6,374.3 487.2,374.2C487.8,374.1 488.2,375.8 488.8,377.6C489.4,379.4 489.9,383.2 490.5,385.0C491.1,386.8 491.7,388.3 492.3,388.4C492.9,388.5 493.4,386.5 493.9,385.7C494.4,384.9 494.9,383.4 495.5,383.6C496.1,383.8 496.7,385.6 497.3,387.0C497.9,388.4 498.7,390.8 499.3,391.8C499.9,392.8 500.3,393.6 500.9,393.1C501.5,392.7 502.1,390.8 502.7,389.1C503.3,387.4 503.9,384.5 504.5,383.0C505.1,381.5 505.9,381.1 506.4,380.3C506.9,379.5 507.2,380.1 507.7,378.2C508.1,376.3 508.7,371.9 509.1,368.8C509.6,365.7 509.9,361.5 510.4,359.3C510.9,357.1 511.6,357.1 512.2,355.9C512.8,354.7 513.4,352.8 513.9,351.9C514.4,351.0 514.9,350.4 515.3,350.3C515.7,350.2 516.0,350.6 516.4,351.2C516.8,351.8 517.1,352.8 517.5,354.1C517.9,355.4 518.3,357.9 518.7,359.1C519.1,360.3 519.4,361.3 519.7,361.2C520.1,361.1 520.4,360.0 520.8,358.3C521.2,356.6 521.7,352.9 522.1,350.8C522.5,348.7 522.9,347.1 523.3,345.8C523.7,344.6 524.2,343.6 524.6,343.3C525.0,343.0 525.4,343.3 525.8,344.1C526.2,344.9 526.7,346.8 527.1,348.3C527.5,349.8 527.9,352.1 528.3,353.3C528.7,354.5 529.1,355.4 529.5,355.4C529.9,355.4 530.4,354.5 530.8,353.3C531.2,352.1 531.6,349.8 532.0,348.3C532.4,346.9 532.8,345.3 533.3,344.6C533.8,343.9 534.5,344.1 535.0,344.1C535.5,344.1 535.8,344.2 536.2,344.8C536.6,345.4 536.9,346.2 537.3,347.5C537.6,348.8 537.9,351.1 538.3,352.5C538.7,353.9 539.1,355.2 539.5,356.2C539.9,357.2 540.4,357.8 540.8,358.3C541.2,358.9 541.6,359.3 541.8,359.5" fill="none" stroke="#0072bd" stroke-width="1.25" stroke-linejoin="round" stroke-linecap="round"/>
</svg>
</body></html>
